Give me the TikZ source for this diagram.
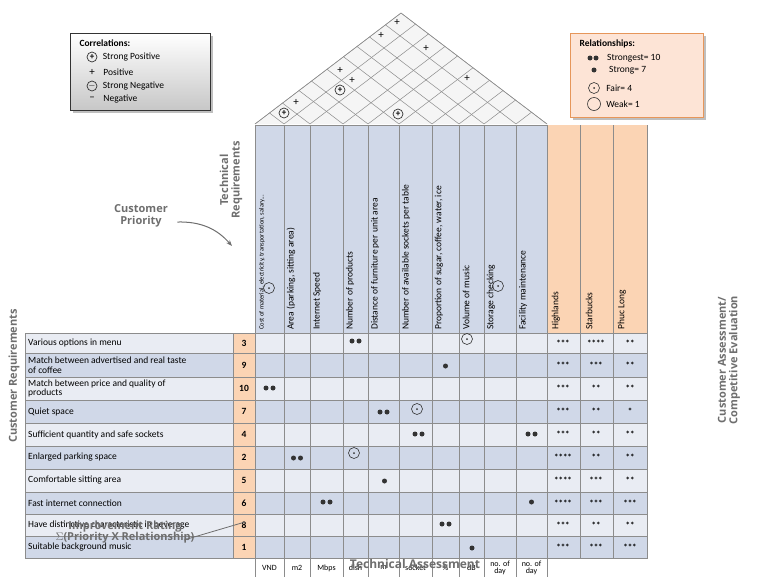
\documentclass[tikz,border=0pt]{standalone}
\usepackage{fontspec}
\setmainfont{Carlito}
\setsansfont{Open Sans}
\usetikzlibrary{shadows,arrows.meta,positioning,calc}
\definecolor{hqgrid}{RGB}{140,140,140}
\definecolor{hqlight}{RGB}{233,236,243}
\definecolor{hqdark}{RGB}{208,216,232}
\definecolor{hqorange}{RGB}{251,212,180}
\definecolor{hqsalmon}{RGB}{253,228,214}
\definecolor{hqborder}{RGB}{230,150,90}
\definecolor{hqtext}{RGB}{110,110,110}

\begin{document}
\begin{tikzpicture}[x=1pt,y=-1pt,
		% Node styles
		cell/.style={draw=hqgrid, line width=0.6pt},
		reqtext/.style={anchor=west, font=\fontsize{9.5}{9.5}\selectfont, align=left, inner sep=1pt},
		headtext/.style={rotate=90, anchor=west, font=\fontsize{9.5}{10}\selectfont, inner sep=1pt},
		stars/.style={font=\fontsize{9}{9}\selectfont\bfseries},
		unit/.style={font=\fontsize{8}{7.5}\selectfont, align=center},
		bigtitle/.style={font=\sffamily\bfseries\fontsize{11}{11.5}\selectfont, text=hqtext, align=center},
		dot/.style={circle, fill=black!80, inner sep=0pt, minimum size=5pt},
		fair/.style={circle, draw=black!80, line width=0.6pt, inner sep=0pt, minimum size=11pt,
				path picture={\fill[black!80] (path picture bounding box.center) circle (1pt);}},
		weak/.style={circle, draw=black!80, line width=0.6pt, inner sep=0pt, minimum size=11pt},
		splus/.style={circle, draw=black!80, line width=0.7pt, inner sep=0pt, minimum size=10pt,
				font=\fontsize{9}{9}\selectfont\bfseries, text height=5pt},
		plus/.style={font=\fontsize{11}{11}\selectfont, inner sep=0pt},
		legtext/.style={font=\fontsize{9.5}{10}\selectfont},
		legend/.style={anchor=north west, font=\fontsize{9.5}{10}\selectfont, align=left}
	]
	\useasboundingbox (0,0) rectangle (768,576);

	% Legends
	\node[legend, draw=black!80, line width=0.8pt, minimum width=140pt, minimum height=77pt,
		top color=white, bottom color=black!22, drop shadow] (corr) at (70,33) {};
	\node[legend] (corrtitle) at (76,36) {\textbf{Correlations:}};
	\node[splus] (lsp) at (92,57) {+};
	\node[right=2pt of lsp, legtext] {Strong Positive};
	\node[plus] (lp) at (92,72) {+};
	\node[right=5pt of lp, legtext] {Positive};
	\node[splus] (lsn) at (92,86) {$-$};
	\node[right=2pt of lsn, legtext] {Strong Negative};
	\node[plus] (ln) at (92,99) {--};
	\node[right=5pt of ln, legtext] {Negative};

	\node[legend, draw=hqborder, line width=0.8pt, fill=hqsalmon, minimum width=133pt,
		minimum height=84pt, drop shadow] (rel) at (570,33) {};
	\node[legend] (reltitle) at (576,36) {\textbf{Relationships:}};
	\node[dot] (ld1) at (590,58) {};
	\node[dot] (ld2) at (596,58) {};
	\node[right=5pt of ld2, legtext] {Strongest= 10};
	\node[dot] (ld3) at (594,70) {};
	\node[right=9pt of ld3, legtext] {Strong= 7};
	\node[fair] (lf) at (594,88) {};
	\node[right=3pt of lf, legtext] {Fair= 4};
	\node[weak, minimum size=13pt] (lw) at (594,104) {};
	\node[right=2pt of lw, legtext] {Weak= 1};

	% Roof
	\def\colx{{255,284,310,343,368,399,432,459,484,516,547}}
	\def\rsl{0.76}
	\coordinate (apex) at (401,13);
	\fill[black!4] (255,124) -- (apex) -- (547,124) -- cycle;
	\foreach \i in {0,...,10}{
		\pgfmathsetmacro{\xb}{\colx[\i]}
		\pgfmathsetmacro{\dl}{(\xb-255)/2}
		\pgfmathsetmacro{\dr}{(547-\xb)/2}
		\draw[hqgrid, line width=0.5pt] (\xb,124) -- ++(-\dl,-\dl*\rsl);
		\draw[hqgrid, line width=0.5pt] (\xb,124) -- ++(\dr,-\dr*\rsl);
	}
	\draw[hqgrid, line width=0.5pt] (255,124) -- (apex) -- (547,124);
	\node[splus] (r1) at (284,113) {+};
	\node[splus] (r2) at (340,90) {+};
	\node[splus] (r3) at (398,114) {+};
	\foreach \px/\py [count=\k] in {296/102, 340/70, 352/80, 381/35, 397/22, 426/48, 467/78}
		\node[plus] (rp\k) at (\px,\py) {+};

	% Header cells
	\fill[hqdark] (255,125) rectangle (547,333);
	\fill[hqorange] (547,125) rectangle (647,333);
	\draw[cell] (255,125) -- (547,125);

	\foreach \i/\t [count=\k from 0] in {
		{1}/{\fontsize{6.5}{7}\selectfont Cost of material, electricity, transportation, salary...},
		{2}/{Area (parking, sitting area)},
		{3}/{Internet Speed},
		{4}/{Number of products},
		{5}/{Distance of furniture per unit area},
		{6}/{Number of available sockets per table},
		{7}/{Proportion of sugar, coffee, water, ice},
		{8}/{Volume of music},
		{9}/{Storage checking},
		{10}/{Facility maintenance}}{
		\pgfmathsetmacro{\xb}{\colx[\k]}
		\node[headtext] (head\i) at (\xb+7,331) {\t};
	}
	\node[headtext] (hhigh) at (556,331) {Highlands};
	\node[headtext] (hstar) at (589,331) {Starbucks};
	\node[headtext] (hphuc) at (622,331) {Phuc Long};
	\node[fair] (hf1) at (269,288) {};
	\node[fair] (hf9) at (498,286) {};

	% Rows
	\def\rowy{{333,353,377,400,423,446,469,492,514,536,558}}
	\foreach \r/\req/\pri/\ca/\cb/\cc [count=\k from 0] in {
		1/{Various options in menu}/3/***/****/**,
		2/{Match between advertised and real taste\\of coffee}/9/***/***/**,
		3/{Match between price and quality of\\products}/10/***/**/**,
		4/{Quiet space}/7/***/**/*,
		5/{Sufficient quantity and safe sockets}/4/***/**/**,
		6/{Enlarged parking space}/2/****/**/**,
		7/{Comfortable sitting area}/5/****/***/**,
		8/{Fast internet connection}/6/****/***/***,
		9/{Have distinctive characteristic in beverage}/8/***/**/**,
		10/{Suitable background music}/1/***/***/***}{
		\pgfmathsetmacro{\ya}{\rowy[\k]}
		\pgfmathsetmacro{\yb}{\rowy[\k+1]}
		\pgfmathsetmacro{\shade}{mod(\r,2)==0 ? 1 : 0}
		\ifdim\shade pt>0.5pt
			\fill[hqdark] (25,\ya) rectangle (233,\yb);
			\fill[hqdark] (255,\ya) rectangle (647,\yb);
		\else
			\fill[hqlight] (25,\ya) rectangle (233,\yb);
			\fill[hqlight] (255,\ya) rectangle (647,\yb);
		\fi
		\fill[hqorange] (233,\ya) rectangle (255,\yb);
		\draw[cell] (25,\ya) rectangle (647,\yb);
		\node[reqtext] (req\r) at (27,{(\ya+\yb)/2}) {\req};
		\node[font=\fontsize{9.5}{9.5}\selectfont\bfseries] (pri\r) at (244,{(\ya+\yb)/2}) {\pri};
		\node[stars] (ca\r) at (563,{(\ya+\yb)/2}) {\ca};
		\node[stars] (cb\r) at (596,{(\ya+\yb)/2}) {\cb};
		\node[stars] (cc\r) at (630,{(\ya+\yb)/2}) {\cc};
	}
	\foreach \i in {0,...,10}{
		\pgfmathsetmacro{\xb}{\colx[\i]}
		\draw[cell] (\xb,125) -- (\xb,558);
	}
	\foreach \xb in {233,580,613,647}
		\draw[cell] (\xb,333) -- (\xb,558);
	\foreach \xb in {580,613,647}
		\draw[cell] (\xb,125) -- (\xb,333);

	% Relationships
	\foreach \px/\py [count=\k] in {355.5/341, 269.5/388, 383.5/412, 418.5/434, 531.5/434,
			297/458, 326.5/502, 445.5/524}{
		\node[dot] (dd\k a) at (\px-3.5,\py) {};
		\node[dot] (dd\k b) at (\px+3.5,\py) {};
	}
	\foreach \px/\py [count=\k] in {445.5/366, 384.5/481, 531.5/502, 472/548}
		\node[dot] (sd\k) at (\px,\py) {};
	\node[fair] (mf1) at (467,339) {};
	\node[fair] (mf2) at (417,409) {};
	\node[fair] (mf3) at (354,453) {};

	% Units
	\foreach \t [count=\k from 0] in {VND,m2,Mbps,dish,m,socket,\%,dB,no. of\\day,no. of\\day}{
		\pgfmathsetmacro{\xa}{\colx[\k]}
		\pgfmathsetmacro{\xc}{\colx[\k+1]}
		\draw[cell, fill=white] (\xa,558) rectangle (\xc,578);
		\node[unit] (unit\k) at ({(\xa+\xc)/2},568) {\t};
	}

	% Titles
	\node[bigtitle, rotate=90] (custreq) at (14,376) {Customer Requirements};
	\node[bigtitle, rotate=90] (techreq) at (231,180) {Technical\\Requirements};
	\node[bigtitle] (custpri) at (141,216) {Customer\\Priority};
	\draw[-{Stealth[length=6pt]}, hqtext, line width=1pt] (custpri.east) ++(6,6) to[bend left=25] (232,246);
	\node[bigtitle, rotate=90] (custass) at (729,360) {Customer Assessment/\\Competitive Evaluation};
	\node[bigtitle, font=\sffamily\bfseries\fontsize{12}{12}\selectfont] (techass) at (415,564) {Technical Assessment};
	\node[bigtitle] (improve) at (125,532) {Improvement Rating\\$\Sigma$(Priority X Relationship)};
	\draw[hqtext, line width=0.8pt] (improve.east) ++(-14,8) -- (245,522);
\end{tikzpicture}
\end{document}
